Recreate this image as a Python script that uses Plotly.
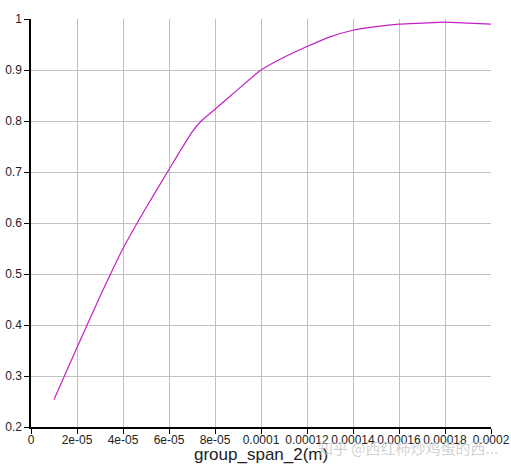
import plotly.graph_objects as go

span = [1.0e-5, 2.0e-5, 3.0e-5, 4.0e-5, 5.0e-5, 6.0e-5, 7.0e-5, 7.4e-5, 8.0e-5, 9.0e-5,
        1.0e-4, 1.1e-4, 1.2e-4, 1.3e-4, 1.4e-4, 1.5e-4, 1.6e-4, 1.7e-4, 1.8e-4, 1.9e-4, 2.0e-4]
value = [0.254, 0.356, 0.456, 0.550, 0.630, 0.705, 0.778, 0.800, 0.823, 0.862,
         0.900, 0.925, 0.946, 0.965, 0.978, 0.985, 0.990, 0.992, 0.994, 0.992, 0.990]

x_ticks = [0, 2e-5, 4e-5, 6e-5, 8e-5, 1e-4, 1.2e-4, 1.4e-4, 1.6e-4, 1.8e-4, 2e-4]
x_labels = ["0", "2e-05", "4e-05", "6e-05", "8e-05", "0.0001", "0.00012", "0.00014",
            "0.00016", "0.00018", "0.0002"]
y_ticks = [0.2, 0.3, 0.4, 0.5, 0.6, 0.7, 0.8, 0.9, 1.0]
y_labels = ["0.2", "0.3", "0.4", "0.5", "0.6", "0.7", "0.8", "0.9", "1"]

fig = go.Figure()
fig.add_trace(go.Scatter(x=span, y=value, mode="lines",
                         line=dict(color="#c41fc4", width=1.2, shape="spline", smoothing=0.5),
                         showlegend=False))

axis_font = dict(family="Liberation Sans", size=12, color="#222")
fig.update_layout(
    width=511, height=470,
    margin=dict(l=31, r=20, t=19, b=43),
    plot_bgcolor="white", paper_bgcolor="white",
    xaxis=dict(range=[0, 2e-4], tickvals=x_ticks, ticktext=x_labels, tickangle=0,
               automargin=False,
               showline=True, linecolor="black", linewidth=1.5,
               ticks="outside", ticklen=5, tickcolor="black", ticklabelstandoff=-4,
               showgrid=True, gridcolor="#c0c0c0", gridwidth=1, zeroline=False,
               tickfont=axis_font),
    yaxis=dict(range=[0.2, 1.0], tickvals=y_ticks, ticktext=y_labels,
               automargin=False,
               showline=True, linecolor="black", linewidth=1.5,
               ticks="outside", ticklen=5, tickcolor="black", ticklabelstandoff=0,
               showgrid=True, gridcolor="#c0c0c0", gridwidth=1, zeroline=False,
               tickfont=axis_font),
)
fig.add_annotation(text="group_span_2(m)", xref="paper", yref="paper",
                   x=0.5, y=-0.0686, xanchor="center", yanchor="middle", showarrow=False,
                   font=dict(family="Liberation Sans", size=17, color="#222"))
fig.add_annotation(text="知乎 @西红柿炒鸡蛋的西...", xref="paper", yref="paper",
                   x=1.02, y=-0.051, xanchor="right", yanchor="middle", showarrow=False,
                   font=dict(family="Noto Sans CJK SC", size=15, color="rgba(190,190,190,0.7)"))
fig.write_html("out.html", config={"displayModeBar": False},
               post_script="document.body.style.margin='0';")
